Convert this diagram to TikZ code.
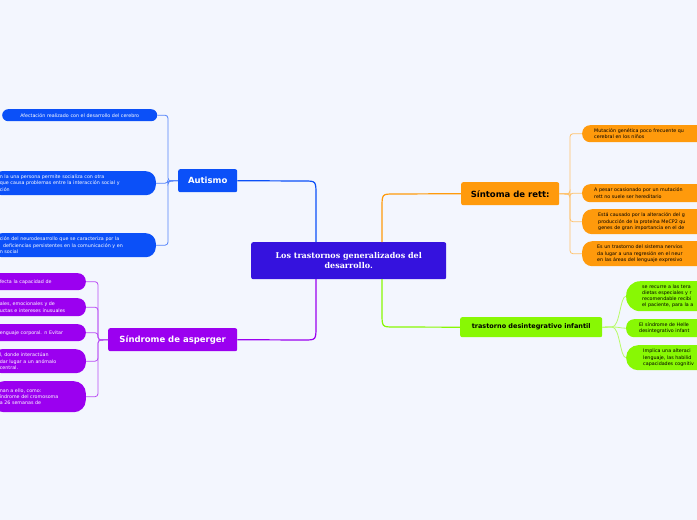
\documentclass[tikz,border=0pt]{standalone}
\usepackage{fontspec}
\setsansfont{DejaVu Sans}
\setmainfont{DejaVu Serif}
\begin{document}
\begin{tikzpicture}[x=1pt,y=-1pt,
 kid/.style={fill=#1, inner ysep=0pt, inner xsep=10pt, align=left, font=\sffamily\fontsize{4.8}{6.3}\selectfont, anchor=north west},
 kidr/.style={kid=#1, anchor=north east, inner xsep=8pt},
 main/.style={fill=#1, rounded corners=2pt, font=\sffamily\bfseries\fontsize{8.5}{10}\selectfont, inner sep=0pt, anchor=north west},
 lnk/.style={draw=#1, line width=0.8pt, rounded corners=3pt}]
\definecolor{bg}{HTML}{F3F6FE}
\definecolor{cblue}{HTML}{0B50F8}
\definecolor{cpur}{HTML}{9B00F0}
\definecolor{corg}{HTML}{FF9A0C}
\definecolor{cgrn}{HTML}{88F804}
\definecolor{cind}{HTML}{3512DE}
\fill[bg] (0,0) rectangle (697,520);
\useasboundingbox (0,0) rectangle (697,520);
\clip (0,0) rectangle (697,520);
% central
\node[main=cind, minimum width=195pt, minimum height=37pt, text=white, font=\rmfamily\bfseries\fontsize{8}{9.5}\selectfont, align=center] (c) at (251,242) {Los trastornos generalizados del\\ desarrollo.};
% branches
\node[main=cblue, text=white, minimum width=59pt, minimum height=23pt] (aut) at (178,169) {Autismo};
\node[main=cpur, text=white, minimum width=129pt, minimum height=23pt] (asp) at (108,328) {Síndrome de asperger};
\node[main=corg, text=black, minimum width=98pt, minimum height=23pt] (ret) at (461,182) {Síntoma de rett:};
\node[main=cgrn, text=black, minimum width=142pt, minimum height=20pt, font=\sffamily\bfseries\fontsize{6.5}{8}\selectfont] (tdi) at (460,317) {trastorno desintegrativo infantil};
\coordinate (cb) at (316,242); \coordinate (cp) at (316,279);
\coordinate (co) at (382,242); \coordinate (cg) at (382,279);
\draw[cblue, line width=1.2pt] (aut.east) -- (304,181) .. controls (316,181) .. (316,195) -- (cb);
\draw[cpur, line width=1.2pt] (asp.east) -- (304,340) .. controls (316,340) .. (316,326) -- (cp);
\draw[corg, line width=1.2pt] (ret.west) -- (394,194) .. controls (382,194) .. (382,208) -- (co);
\draw[cgrn, line width=1.2pt] (tdi.west) -- (394,327) .. controls (382,327) .. (382,313) -- (cg);
% autismo children
\node[kid=cblue, text=white, rounded corners=6pt, minimum height=12pt, text width=135pt, align=center, anchor=north west, inner xsep=10pt] (a1) at (2,109) {Afectación realizado con el desarrollo del cerebro};
\node[kidr=cblue, text=white, rounded corners=10pt, minimum height=24pt, text width=148pt] (a2) at (156,171) {n la una persona permite socializa con otra\\que causa problemas entre la interacción social y\\ción};
\node[kidr=cblue, text=white, rounded corners=10pt, minimum height=24pt, text width=148pt] (a3) at (156,233) {ción del neurodesarrollo que se caracteriza por la\\\ \ deficiencias persistentes en la comunicación y en\\n social};
\coordinate (ba) at (168,181);
\foreach \k in {a1,a2,a3} \draw[lnk=cblue!70] (aut.west) -- (ba) |- (\k.east);
% asperger children
\node[kidr=cpur, text=white, rounded corners=8pt, minimum height=17pt, text width=78pt] (p1) at (86,273) {fecta la capacidad de};
\node[kidr=cpur, text=white, rounded corners=8pt, minimum height=18pt, text width=78pt] (p2) at (86,298) {ales, emocionales y de\\uctas e intereses inusuales};
\node[kidr=cpur, text=white, rounded corners=8pt, minimum height=17pt, text width=78pt] (p3) at (86,324) {enguaje corporal. n Evitar};
\node[kidr=cpur, text=white, rounded corners=10pt, minimum height=24pt, text width=78pt] (p4) at (86,349) {l, donde interactúan\\dar lugar a un anómalo\\central.};
\node[kidr=cpur, text=white, rounded corners=12pt, minimum height=31pt, text width=78pt] (p5) at (86,381) {nan a ello, como:\\índrome del cromosoma\\a 26 semanas de\\[2pt]};
\coordinate (bp) at (98,340);
\foreach \k in {p1,p2,p3,p4,p5} \draw[lnk=cpur!70] (asp.west) -- (bp) |- (\k.east);
% rett children
\node[kid=corg, rounded corners=8pt, minimum height=17pt, text width=150pt, inner xsep=12pt] (r1) at (582,125) {Mutación genética poco frecuente qu\\cerebral en los niños};
\node[kid=corg, rounded corners=8pt, minimum height=18pt, text width=150pt, inner xsep=12pt] (r2) at (582,184) {A pesar ocasionado por un mutación\\rett no suele ser hereditario};
\node[kid=corg, rounded corners=10pt, minimum height=25pt, text width=150pt, inner xsep=16pt] (r3) at (582,209) {Está causado por la alteración del g\\producción de la proteína MeCP2 qu\\genes de gran importancia en el de};
\node[kid=corg, rounded corners=10pt, minimum height=25pt, text width=150pt, inner xsep=15pt] (r4) at (582,241) {Es un trastorno del sistema nervios\\da lugar a una regresión en el neur\\en las áreas del lenguaje expresivo};
\coordinate (br) at (570,194);
\foreach \k in {r1,r2,r3,r4} \draw[lnk=corg!60] (ret.east) -- (br) |- (\k.west);
% tdi children
\node[kid=cgrn, rounded corners=14pt, minimum height=30pt, text width=90pt, inner xsep=16pt] (g1) at (626,281) {se recurre a las tera\\dietas especiales y r\\recomendable recibi\\el paciente, para la a};
\node[kid=cgrn, rounded corners=8pt, minimum height=18pt, text width=90pt, inner xsep=13pt] (g2) at (626,319) {El síndrome de Helle\\desintegrativo infant};
\node[kid=cgrn, rounded corners=12pt, minimum height=25pt, text width=90pt, inner xsep=17pt] (g3) at (626,345) {Implica una alteraci\\lenguaje, las habilid\\capacidades cognitiv};
\coordinate (bg1) at (612,327);
\coordinate (cx) at (620,0);
\foreach \k in {g1,g2,g3} \draw[cgrn!60, line width=0.8pt] (tdi.east) -- (bg1) .. controls (620,327) and (cx |- \k.west) .. (\k.west);
\end{tikzpicture}
\end{document}
